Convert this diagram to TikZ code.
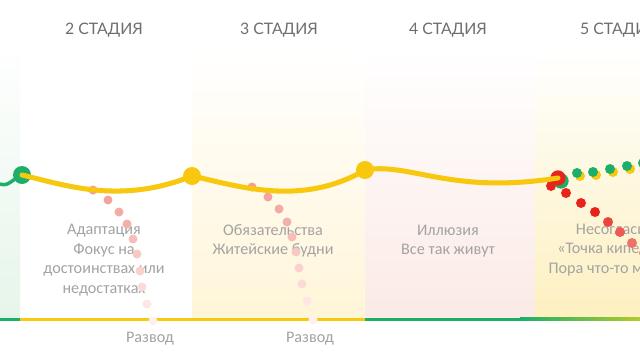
\documentclass[tikz,border=0pt]{standalone}
\usepackage{fontspec}
\setmainfont{Carlito}
\newfontfamily\headfont{Lato}
\definecolor{titlegray}{HTML}{6E6E6E}
\definecolor{textgray}{HTML}{A3A3A3}
\definecolor{lineyellow}{HTML}{F8C80F}
\definecolor{linegreen}{HTML}{1DAE6A}
\definecolor{dotred}{HTML}{E8231B}
\definecolor{dotpink}{HTML}{EE877F}
\definecolor{bggreen}{HTML}{E6F5EA}
\definecolor{bgyellow}{HTML}{FFF5D8}
\definecolor{bgpink}{HTML}{FBEAE6}
\definecolor{bgyellowb}{HTML}{FDF0C0}
\definecolor{limegreen}{HTML}{B3CB2A}
\begin{document}
\begin{tikzpicture}[x=0.03cm,y=-0.03cm,
    stagetitle/.style={font=\headfont\fontsize{13.5}{16}\selectfont, text=titlegray},
    stagetext/.style={font=\fontsize{13.8}{16.6}\selectfont, text=textgray, align=center},
    stagedot/.style={circle, inner sep=0pt, minimum size=0.54cm},
    curveline/.style={lineyellow, line width=4.3pt, line cap=round}]

    \clip (0,0) rectangle (640,360);
    \fill[white] (0,0) rectangle (640,360);

    % 背景色带
    \fill[top color=white, bottom color=bggreen] (0,40) rectangle (20,318);
    \fill[top color=white, bottom color=bgyellow] (192,50) rectangle (365,318);
    \fill[top color=white, bottom color=bgpink] (365,50) rectangle (535,318);
    \fill[top color=white, bottom color=bgyellowb] (535,50) rectangle (640,318);

    % 底部的线
    \fill[linegreen] (0,317.5) rectangle (20,320.5);
    \fill[lineyellow] (20,317.5) rectangle (365,320.5);
    \fill[linegreen] (365,317.5) rectangle (520,320.5);
    \fill[left color=linegreen, right color=limegreen] (520,317.5) rectangle (640,320.5);

    % 标题
    \node[stagetitle] (h2) at (104,30) {2 СТАДИЯ};
    \node[stagetitle] (h3) at (279,30) {3 СТАДИЯ};
    \node[stagetitle] (h4) at (448,30) {4 СТАДИЯ};
    \node[stagetitle] (h5) at (619,30) {5 СТАДИЯ};

    % 各阶段的说明
    \node[stagetext] (t2) at (104,260) {Адаптация\\Фокус на\\достоинствах или\\недостатках};
    \node[stagetext] (t3) at (273,241) {Обязательства\\Житейские будни};
    \node[stagetext] (t4) at (448,241) {Иллюзия\\Все так живут};
    \node[stagetext] (t5) at (615,250) {Несогласие\\«Точка кипения»\\Пора что-то менять};
    \node[stagetext] (r2) at (150,339) {Развод};
    \node[stagetext] (r3) at (310,339) {Развод};

    % 粉色的点
    \foreach \x/\y/\c in {93/190/80, 108/200/75, 119/212/70, 127/224/65, 133/239/55,
                          137/254/45, 140/271/38, 142/287/30, 147/304/20, 153/321/12}
        \fill[dotpink!\c!white] (\x,\y) circle (4.5);
    \foreach \x/\y/\c in {252/187/80, 268/197/75, 279/209/70, 287/222/65, 292/237/55,
                          296/252/45, 299/268/38, 302/284/30, 307/301/20, 313/320/12}
        \fill[dotpink!\c!white] (\x,\y) circle (4.5);

    % 红色的点
    \foreach \x/\y/\c in {551/186/100, 566/193/100, 581/203/100, 595/212/100,
                          608/222/85, 620/232/75, 632/243/65, 644/253/60}
        \fill[dotred!\c!white] (\x,\y) circle (5);

    % 绿色和黄色的点
    \foreach \x/\y in {577/173, 593/172, 610/169, 627/166, 643/163} {
        \fill[lineyellow] (\x+3,\y+3) circle (5);
        \fill[linegreen] (\x,\y) circle (5);
    }

    % 左边的绿线
    \coordinate (start) at (0,184);
    \draw[linegreen, line width=3pt] (start) to[out=-20, in=200] (22,175);

    % 节点
    \node[stagedot, fill=linegreen] (n1) at (22,175) {};
    \node[stagedot, fill=lineyellow] (n2) at (192,176) {};
    \node[stagedot, fill=lineyellow] (n3) at (365,170) {};
    \node[stagedot, fill=linegreen, minimum size=0.46cm] (n4g) at (561,181) {};
    \node[stagedot, fill=dotred, minimum size=0.46cm] (n4) at (558,178) {};

    % 黄色的曲线
    \draw[curveline] (n1.center) .. controls (65,185) and (120,205) .. (n2.center);
    \draw[curveline] (n2.center) .. controls (235,185) and (300,208) .. (n3.center);
    \draw[curveline] (n3.center) .. controls (410,162) and (450,195) .. (n4.center);

\end{tikzpicture}
\end{document}
